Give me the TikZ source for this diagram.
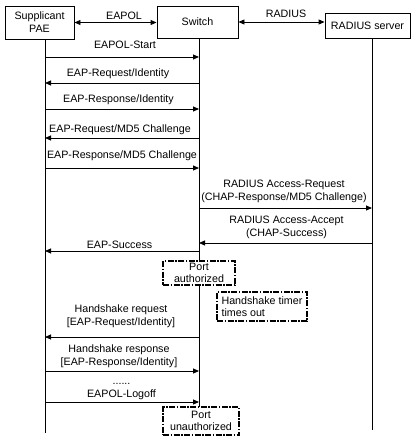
\documentclass[tikz,border=0pt]{standalone}
\usepackage{fontspec}
\setmainfont{Liberation Sans}
\usetikzlibrary{arrows.meta}
\begin{document}
\begin{tikzpicture}[x=1pt,y=-1pt,line width=0.9pt,font=\fontsize{10.7}{13}\selectfont]
		\tikzstyle{entity} = [draw=black,fill=white,inner sep=0pt,align=center]
		\tikzstyle{portstate} = [draw=black,fill=white,line width=1.8pt,dash pattern=on 6pt off 1.5pt on 1.5pt off 1.5pt,inner sep=0pt,align=center,font=\fontsize{10.7}{12}\selectfont]
		\tikzstyle{msg} = [-{Triangle[length=6pt,width=5pt]}]
		\tikzstyle{dmsg} = [{Triangle[length=6pt,width=5pt]}-{Triangle[length=6pt,width=5pt]}]
		\tikzstyle{txt} = [inner sep=0pt,align=center,anchor=north]
		\useasboundingbox (0,0) rectangle (418,441);
		\node[entity,minimum width=69pt,minimum height=33pt] (sup) at (39.5,22.5) {Supplicant\\PAE};
		\node[entity,minimum width=81pt,minimum height=32pt] (sw) at (197.5,22) {Switch};
		\node[entity,minimum width=85pt,minimum height=25pt] (rad) at (367.5,25.5) {RADIUS server};
		\draw[dmsg] (sup.east) -- (sup.east -| sw.west);
		\draw[dmsg] (sw.east) -- (sw.east -| rad.west);
		\node[txt] (eapol) at (124,12) {EAPOL};
		\node[txt] (radius) at (286,10) {RADIUS};
		\coordinate (supEnd) at (45,433);
		\coordinate (swEnd) at (199,436);
		\coordinate (radEnd) at (372,430);
		\draw (supEnd |- sup.south) -- (supEnd);
		\draw (swEnd |- sw.south) -- (swEnd);
		\draw (radEnd |- rad.south) -- (radEnd);
		\foreach \n/\y in {1/57,2/83,3/109,4/138,5/168,6/251,7/337,8/371,9/402} {
			\coordinate (s\n) at (45,\y);
			\coordinate (w\n) at (199,\y);
		}
		\coordinate (w10) at (199,208);
		\coordinate (r10) at (372,208);
		\coordinate (w11) at (199,243);
		\coordinate (r11) at (372,243);
		\draw[msg] (s1) -- (w1);
		\draw[msg] (w2) -- (s2);
		\draw[msg] (s3) -- (w3);
		\draw[msg] (w4) -- (s4);
		\draw[msg] (s5) -- (w5);
		\draw[msg] (w10) -- (r10);
		\draw[msg] (r11) -- (w11);
		\draw[msg] (w6) -- (s6);
		\draw[msg] (w7) -- (s7);
		\draw[msg] (s8) -- (w8);
		\draw[msg] (s9) -- (w9);
		\node[txt] (t1) at (125,40.7) {EAPOL-Start};
		\node[txt] (t2) at (118,68.3) {EAP-Request/Identity};
		\node[txt] (t3) at (118.5,94.3) {EAP-Response/Identity};
		\node[txt] (t4) at (120,124) {EAP-Request/MD5 Challenge};
		\node[txt] (t5) at (122,150) {EAP-Response/MD5 Challenge};
		\node[txt] (t6) at (284,179.3) {RADIUS Access-Request\\(CHAP-Response/MD5 Challenge)};
		\node[txt] (t7) at (286.5,216) {RADIUS Access-Accept\\(CHAP-Success)};
		\node[txt] (t8) at (119.5,240.7) {EAP-Success};
		\node[txt] (t9) at (121,304) {Handshake request\\{[}EAP-Request/Identity{]}};
		\node[txt] (t10) at (119,344) {Handshake response\\{[}EAP-Response/Identity{]}};
		\node[txt] (t11) at (121.5,382.7) {......\\EAPOL-Logoff};
		\node[portstate,minimum width=72pt,minimum height=24pt] (pa) at (199,273) {Port\\authorized};
		\node[portstate,minimum width=90pt,minimum height=29pt,align=left] (hto) at (262,306.5) {Handshake timer\\times out};
		\node[portstate,minimum width=76pt,minimum height=28pt] (pu) at (201,421) {Port\\unauthorized};
\end{tikzpicture}
\end{document}
